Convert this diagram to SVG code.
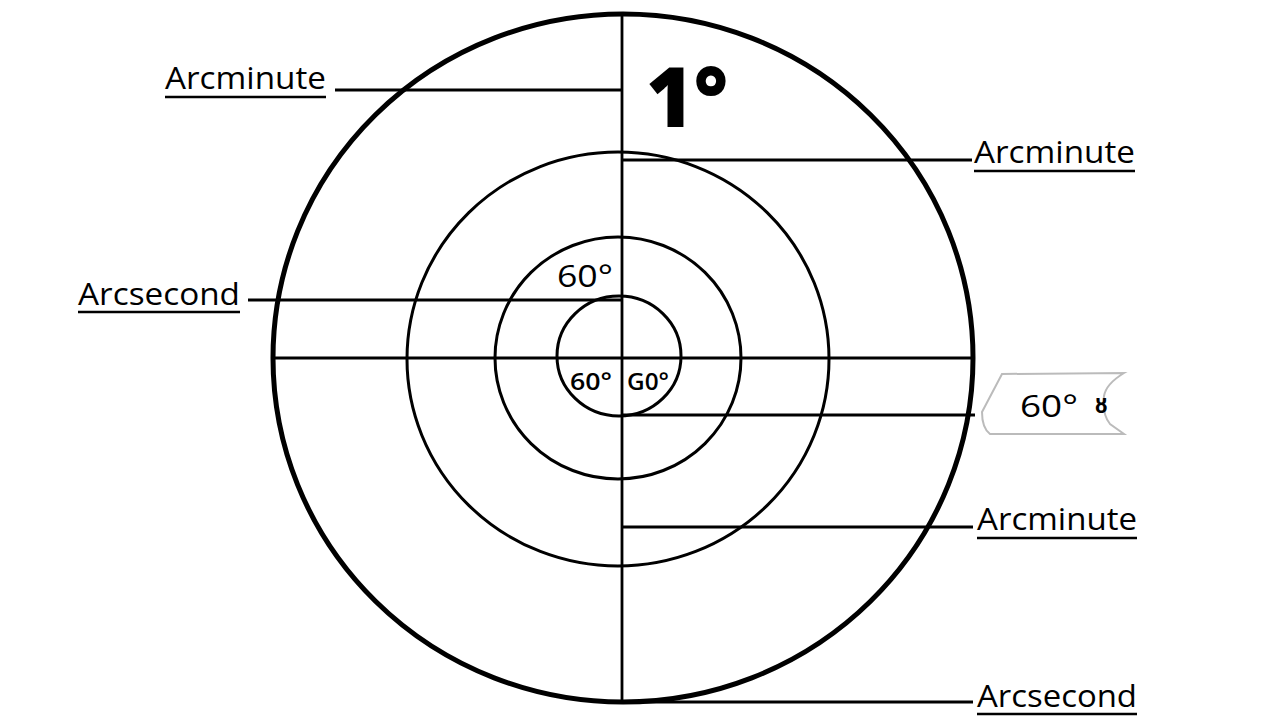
<svg xmlns="http://www.w3.org/2000/svg" width="1280" height="720" viewBox="0 0 1280 720">
<style>
.ln{stroke:#000;stroke-width:2.8;fill:none}
.ring{stroke:#000;stroke-width:3;fill:none}
.lbl{font-family:"Open Sans","Noto Sans",sans-serif;font-size:31px;fill:#000}
.ul{stroke:#000;stroke-width:2.5}
.deg{font-family:"Open Sans","Noto Sans",sans-serif;fill:#000}
</style>
<rect width="1280" height="720" fill="#fff"/>
<g id="rings">
<ellipse cx="623" cy="358" rx="350" ry="344" stroke="#000" stroke-width="5" fill="none"/>
<ellipse cx="618" cy="359" rx="211" ry="207" class="ring"/>
<ellipse cx="618" cy="358" rx="123" ry="121" class="ring"/>
<ellipse cx="619" cy="356" rx="62" ry="60" class="ring"/>
</g>
<g id="connectors">
<line x1="622" y1="15" x2="622" y2="702" class="ln"/>
<line x1="273" y1="358" x2="973" y2="358" class="ln"/>
<line x1="335" y1="90" x2="622" y2="90" class="ln"/>
<line x1="248" y1="300" x2="622" y2="300" class="ln"/>
<line x1="622" y1="160" x2="972" y2="160" class="ln"/>
<line x1="622" y1="415" x2="975" y2="415" class="ln"/>
<line x1="622" y1="527" x2="973" y2="527" class="ln"/>
<line x1="622" y1="702" x2="973" y2="702" class="ln"/>
</g>
<g id="label-arcminute-left">
<text x="165" y="89" class="lbl" textLength="161" lengthAdjust="spacingAndGlyphs">Arcminute</text>
<line x1="165" y1="97" x2="326" y2="97" class="ul"/>
</g>
<g id="label-arcsecond-left">
<text x="78" y="305" class="lbl" textLength="162" lengthAdjust="spacingAndGlyphs">Arcsecond</text>
<line x1="78" y1="312" x2="240" y2="312" class="ul"/>
</g>
<g id="label-arcminute-top-right">
<text x="974" y="163" class="lbl" textLength="161" lengthAdjust="spacingAndGlyphs">Arcminute</text>
<line x1="974" y1="171" x2="1135" y2="171" class="ul"/>
</g>
<g id="label-arcminute-bottom-right">
<text x="977" y="530" class="lbl" textLength="160" lengthAdjust="spacingAndGlyphs">Arcminute</text>
<line x1="977" y1="538" x2="1137" y2="538" class="ul"/>
</g>
<g id="label-arcsecond-bottom-right">
<text x="977" y="707" class="lbl" textLength="160" lengthAdjust="spacingAndGlyphs">Arcsecond</text>
<line x1="977" y1="714" x2="1137" y2="714" class="ul"/>
</g>
<g id="label-1deg">
<text x="646" y="127" class="deg" font-size="84" font-weight="800" textLength="82" lengthAdjust="spacingAndGlyphs">1°</text>
</g>
<g id="label-60-ring">
<text x="557" y="287" class="deg" font-size="31" textLength="56" lengthAdjust="spacingAndGlyphs">60°</text>
</g>
<g id="label-60-inner-left">
<text x="570" y="390" class="deg" font-size="23" font-weight="600" textLength="42" lengthAdjust="spacingAndGlyphs">60°</text>
</g>
<g id="label-60-inner-right">
<text x="627" y="390" class="deg" font-size="23" font-weight="600" textLength="42" lengthAdjust="spacingAndGlyphs">G0°</text>
</g>
<g id="tag-60">
<path d="M982 412 L1002 374 L1124 373 Q1106 384 1104 396 Q1102 414 1110 424 L1124 434 L990 434 Q982 428 982 412 Z" fill="#fff" stroke="#bbb" stroke-width="2"/>
<text x="1020" y="417" class="deg" font-size="31" textLength="58" lengthAdjust="spacingAndGlyphs">60°</text>
<text x="1095" y="413" class="deg" font-size="20" font-weight="bold">ȣ</text>
</g>
</svg>
